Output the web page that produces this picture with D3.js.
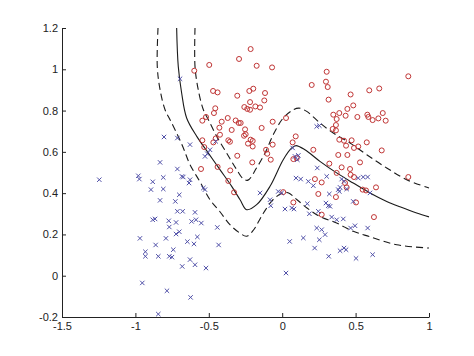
<!DOCTYPE html>
<html>
<head>
<meta charset="utf-8">
<script src="https://cdn.jsdelivr.net/npm/d3@7"></script>
<style>
  html, body { margin: 0; padding: 0; background: #fff; }
  svg { display: block; }
  .axis text { font-family: "Liberation Sans", Arial, sans-serif; font-size: 11px; fill: #222; }
  .axis path, .axis line { stroke: #222; }
</style>
</head>
<body>
<div id="chart"></div>
<script>
// ------- data -------
const xTicks = [-1.5, -1, -0.5, 0, 0.5, 1];
const yTicks = [-0.2, 0, 0.2, 0.4, 0.6, 0.8, 1, 1.2];

// class +1 (red circles)
const redPts = [
  [-0.215,1.098],[-0.294,1.050],[-0.497,1.021],[-0.174,1.017],[-0.069,1.009],[-0.599,0.993],
  [-0.471,0.895],[-0.440,0.888],[-0.306,0.872],[-0.224,0.895],[-0.197,0.906],[-0.117,0.885],
  [-0.122,0.849],[-0.219,0.841],[-0.258,0.817],[-0.238,0.808],[-0.219,0.804],[-0.183,0.820],
  [-0.151,0.815],[-0.456,0.811],[-0.465,0.788],[-0.371,0.764],[-0.544,0.751],[-0.519,0.769],
  [-0.412,0.746],[-0.317,0.752],[-0.296,0.740],[-0.283,0.740],[-0.065,0.746],[0.026,0.764],
  [-0.428,0.717],[-0.344,0.706],[-0.253,0.709],[-0.140,0.716],[-0.260,0.678],[-0.249,0.685],
  [-0.424,0.683],[-0.453,0.665],[-0.367,0.656],[-0.356,0.649],[-0.544,0.656],[-0.215,0.659],
  [-0.201,0.653],[-0.233,0.640],[-0.201,0.626],[-0.469,0.646],[-0.531,0.623],[-0.110,0.610],
  [-0.102,0.591],[-0.065,0.635],[-0.078,0.562],[-0.306,0.581],[-0.204,0.549],[-0.440,0.527],
  [-0.553,0.517],[-0.354,0.510],[-0.367,0.459],[-0.328,0.404],
  [0.303,0.988],[0.859,0.966],[0.201,0.924],[0.298,0.940],[0.310,0.914],[0.466,0.878],
  [0.593,0.898],[0.661,0.907],[0.316,0.853],[0.444,0.808],[0.484,0.825],[0.348,0.780],
  [0.389,0.788],[0.432,0.775],[0.371,0.759],[0.512,0.769],[0.580,0.780],[0.587,0.769],
  [0.616,0.754],[0.655,0.762],[0.685,0.788],[0.705,0.751],[0.366,0.730],[0.344,0.711],
  [0.366,0.704],[0.092,0.675],[0.071,0.646],[0.389,0.659],[0.421,0.654],[0.473,0.656],
  [0.435,0.630],[0.489,0.619],[0.518,0.626],[0.576,0.646],[0.678,0.607],[0.212,0.610],
  [0.382,0.585],[0.444,0.585],[0.076,0.565],[0.099,0.570],[0.530,0.549],[0.321,0.543],
  [0.405,0.525],[0.462,0.517],[0.371,0.498],[0.466,0.489],[0.489,0.478],[0.859,0.478],
  [0.223,0.468],[0.269,0.452],[0.428,0.449],[0.439,0.428],[0.548,0.417],[0.571,0.413],
  [0.639,0.428],[0.246,0.396],[0.366,0.381],[0.007,0.405],[0.076,0.355],[0.269,0.296],
  [0.503,0.355],[0.625,0.284]
];

// class -1 (blue crosses)
const bluePts = [
  [-1.246,0.465],[-0.832,0.549],[-0.714,0.517],[-0.980,0.484],[-0.973,0.468],[-0.882,0.455],
  [-0.810,0.476],[-0.683,0.481],[-0.635,0.449],[-0.894,0.417],[-0.810,0.420],[-0.701,0.392],
  [-0.832,0.365],[-0.728,0.360],[-0.537,0.425],[-0.526,0.417],[-0.526,0.578],[-0.510,0.591],
  [-0.714,0.312],[-0.678,0.312],[-0.594,0.307],[-0.882,0.271],[-0.866,0.275],[-0.773,0.266],
  [-0.723,0.258],[-0.769,0.236],[-0.617,0.263],[-0.587,0.271],[-0.551,0.255],[-0.442,0.234],
  [-0.723,0.202],[-0.701,0.213],[-0.969,0.181],[-0.792,0.181],[-0.646,0.165],[-0.601,0.154],
  [-0.578,0.188],[-0.433,0.149],[-0.862,0.149],[-0.932,0.116],[-0.932,0.094],[-0.844,0.094],
  [-0.769,0.094],[-0.751,0.090],[-0.742,0.126],[-0.628,0.078],[-0.594,0.053],[-0.681,0.045],
  [-0.519,0.037],[-0.953,-0.035],[-0.785,-0.073],[-0.624,-0.105],[-0.844,-0.186],
  [-0.805,0.672],[-0.714,0.667],[-0.628,0.635],[-0.674,0.478],[-0.628,0.465],[-0.696,0.954],
  [-0.453,0.651],[-0.492,0.610],
  [0.094,0.473],[0.087,0.578],[0.103,0.562],[0.235,0.723],[0.253,0.727],[0.071,0.619],
  [0.110,0.583],[0.239,0.522],[0.126,0.468],[0.178,0.457],[0.303,0.481],[0.405,0.468],
  [0.421,0.457],[0.518,0.473],[0.552,0.478],[0.582,0.478],[0.321,0.396],[0.382,0.417],
  [0.394,0.428],[0.598,0.401],[0.212,0.436],[-0.151,0.401],[-0.027,0.408],[-0.004,0.401],
  [-0.083,0.368],[-0.078,0.339],[0.019,0.323],[0.065,0.328],[0.080,0.323],[0.171,0.349],
  [0.185,0.300],[0.246,0.312],[0.298,0.352],[0.314,0.339],[0.326,0.336],[0.389,0.408],
  [0.439,0.420],[0.337,0.284],[0.371,0.271],[0.416,0.275],[0.484,0.360],[0.466,0.231],
  [0.496,0.242],[0.582,0.231],[0.235,0.231],[0.269,0.223],[0.292,0.199],[0.253,0.174],
  [0.144,0.183],[0.051,0.166],[0.221,0.134],[0.317,0.094],[0.394,0.121],[0.421,0.134],
  [0.435,0.126],[0.503,0.084],[0.616,0.102],[0.026,0.013]
];

// decision boundary (f = 0)
const boundary = [
  [-0.719,1.2],[-0.708,1.014],[-0.685,0.885],[-0.651,0.764],[-0.582,0.675],[-0.503,0.594],
  [-0.424,0.514],[-0.344,0.433],[-0.287,0.368],[-0.242,0.320],[-0.174,0.344],[-0.083,0.433],
  [0.007,0.562],[0.065,0.619],[0.094,0.630],[0.155,0.610],[0.257,0.554],[0.371,0.498],
  [0.484,0.449],[0.598,0.401],[0.712,0.360],[0.802,0.334],[0.916,0.304],[1.0,0.285]
];

// margin f = +1
const marginUpper = [
  [-0.594,1.2],[-0.594,1.014],[-0.572,0.901],[-0.537,0.804],[-0.503,0.756],[-0.446,0.675],
  [-0.378,0.594],[-0.310,0.514],[-0.265,0.469],[-0.233,0.463],[-0.174,0.523],[-0.117,0.594],
  [-0.061,0.683],[0.007,0.764],[0.076,0.804],[0.114,0.812],[0.167,0.796],[0.257,0.740],
  [0.348,0.691],[0.462,0.643],[0.576,0.586],[0.712,0.522],[0.848,0.465],[1.0,0.425]
];

// margin f = -1
const marginLower = [
  [-0.846,1.2],[-0.851,1.014],[-0.832,0.901],[-0.798,0.804],[-0.764,0.756],[-0.719,0.691],
  [-0.674,0.620],[-0.628,0.538],[-0.560,0.455],[-0.492,0.368],[-0.424,0.310],[-0.356,0.247],
  [-0.287,0.206],[-0.243,0.191],[-0.199,0.218],[-0.131,0.300],[-0.063,0.368],[-0.001,0.400],
  [0.040,0.402],[0.101,0.368],[0.169,0.328],[0.257,0.287],[0.371,0.255],[0.484,0.215],
  [0.598,0.189],[0.780,0.150],[1.0,0.134]
];

// ------- chart -------
const width = 474, height = 356;
const margin = { top: 28, right: 45, bottom: 39, left: 62 };

const svg = d3.select("#chart").append("svg")
  .attr("width", width).attr("height", height);

const x = d3.scaleLinear().domain([-1.5, 1]).range([margin.left, width - margin.right]);
const y = d3.scaleLinear().domain([-0.2, 1.2]).range([height - margin.bottom, margin.top]);

svg.append("g")
  .attr("class", "axis")
  .attr("transform", `translate(0,${height - margin.bottom})`)
  .call(d3.axisBottom(x).tickValues(xTicks).tickFormat(String).tickSizeInner(-4).tickSizeOuter(0).tickPadding(5));

svg.append("g")
  .attr("class", "axis")
  .attr("transform", `translate(${margin.left},0)`)
  .call(d3.axisLeft(y).tickValues(yTicks).tickFormat(String).tickSizeInner(-4).tickSizeOuter(0).tickPadding(4));

const line = d3.line().x(d => x(d[0])).y(d => y(d[1])).curve(d3.curveCatmullRom);

svg.append("path").datum(boundary)
  .attr("d", line).attr("fill", "none")
  .attr("stroke", "#1a1a1a").attr("stroke-width", 1.1);

[marginUpper, marginLower].forEach(arr => {
  svg.append("path").datum(arr)
    .attr("d", line).attr("fill", "none")
    .attr("stroke", "#1a1a1a").attr("stroke-width", 1.1)
    .attr("stroke-dasharray", "7,4");
});

// points
svg.append("g").selectAll("circle")
  .data(redPts).join("circle")
  .attr("cx", d => x(d[0])).attr("cy", d => y(d[1]))
  .attr("r", 2.5)
  .attr("fill", "none").attr("stroke", "#c03535").attr("stroke-width", 1);

svg.append("g").selectAll("path")
  .data(bluePts).join("path")
  .attr("transform", d => `translate(${x(d[0])},${y(d[1])})`)
  .attr("d", "M-2.2,-2.2L2.2,2.2M-2.2,2.2L2.2,-2.2")
  .attr("fill", "none").attr("stroke", "#5050a8").attr("stroke-width", 1);
</script>
</body>
</html>
